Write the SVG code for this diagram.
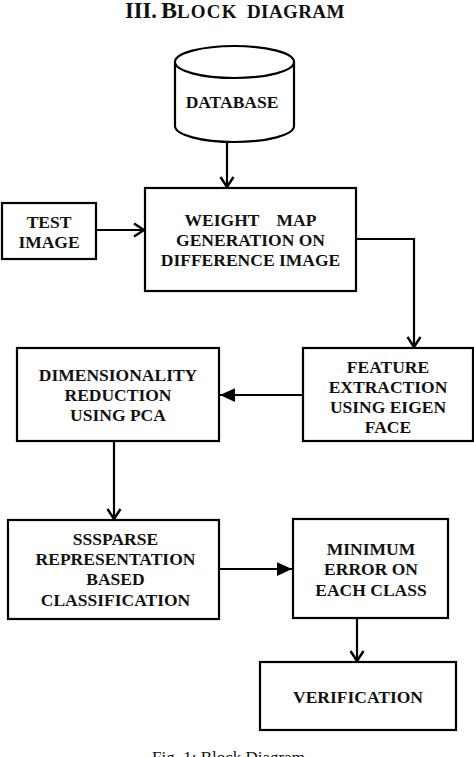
<svg xmlns="http://www.w3.org/2000/svg" width="474" height="757" viewBox="0 0 474 757">
<defs>
<style>
.box{fill:#fff;stroke:#000;stroke-width:2.2}
.wire{fill:none;stroke:#000;stroke-width:2.2}
.open{marker-end:url(#openArrow)}
.fill{marker-end:url(#fillArrow)}
</style>
<marker id="openArrow" markerUnits="userSpaceOnUse" markerWidth="20" markerHeight="20" viewBox="-12 -10 14 20" refX="0" refY="0" orient="auto">
<path d="M-10,-6.5 L0,0 L-10,6.5" fill="none" stroke="#000" stroke-width="2.4"/>
</marker>
<marker id="fillArrow" markerUnits="userSpaceOnUse" markerWidth="20" markerHeight="20" viewBox="-14 -8 15 16" refX="0" refY="0" orient="auto">
<path d="M-12,-5.5 L0,0 L-12,5.5 Z" fill="#000"/>
</marker>
</defs>
<rect width="474" height="757" fill="#fff"/>

<g id="title" font-family="'Liberation Serif', serif" font-weight="bold" fill="#111">
<text x="125" y="18" font-size="22.5">III.<tspan x="161" font-size="24">B</tspan><tspan x="177" font-size="19" letter-spacing="1.2">LOCK</tspan><tspan x="247" font-size="19" letter-spacing="0.4">DIAGRAM</tspan></text>
</g>

<g id="connectors">
<line class="wire open" x1="227" y1="142" x2="227" y2="187"/>
<line class="wire open" x1="96" y1="230" x2="144" y2="230"/>
<polyline class="wire open" points="356,239 414,239 414,347"/>
<line class="wire fill" x1="303" y1="395" x2="220" y2="395"/>
<line class="wire open" x1="114" y1="441" x2="114" y2="519"/>
<line class="wire fill" x1="219" y1="569" x2="292" y2="569"/>
<line class="wire open" x1="357" y1="618" x2="357" y2="661"/>
</g>

<g id="database">
<path class="box" d="M175,62 L175,126 A59.5,16 0 0 0 294,126 L294,62"/>
<ellipse class="box" cx="234.5" cy="62" rx="59.5" ry="16"/>
<g font-family="'Liberation Serif', serif" font-weight="bold" font-size="17.5" fill="#111" text-anchor="middle">
<text x="232" y="108">DATABASE</text>
</g>
</g>

<g id="test-image">
<rect class="box" x="2" y="203" width="94" height="56"/>
<g font-family="'Liberation Serif', serif" font-weight="bold" font-size="17.5" fill="#111" text-anchor="middle">
<text x="49" y="228">TEST</text>
<text x="49" y="248">IMAGE</text>
</g>
</g>

<g id="weight-map">
<rect class="box" x="145" y="188" width="211" height="103"/>
<g font-family="'Liberation Serif', serif" font-weight="bold" font-size="17.5" fill="#111" text-anchor="middle">
<text x="250.5" y="226" xml:space="preserve">WEIGHT    MAP</text>
<text x="250.5" y="246">GENERATION ON</text>
<text x="250.5" y="266">DIFFERENCE IMAGE</text>
</g>
</g>

<g id="feature-extraction">
<rect class="box" x="303" y="348" width="170" height="93"/>
<g font-family="'Liberation Serif', serif" font-weight="bold" font-size="17.5" fill="#111" text-anchor="middle">
<text x="388" y="373">FEATURE</text>
<text x="388" y="393">EXTRACTION</text>
<text x="388" y="413">USING EIGEN</text>
<text x="388" y="433">FACE</text>
</g>
</g>

<g id="dimensionality-reduction">
<rect class="box" x="17" y="348" width="202" height="93"/>
<g font-family="'Liberation Serif', serif" font-weight="bold" font-size="17.5" fill="#111" text-anchor="middle">
<text x="118" y="381">DIMENSIONALITY</text>
<text x="118" y="401">REDUCTION</text>
<text x="118" y="421">USING PCA</text>
</g>
</g>

<g id="sparse-classification">
<rect class="box" x="8" y="520" width="211" height="99"/>
<g font-family="'Liberation Serif', serif" font-weight="bold" font-size="17.5" fill="#111" text-anchor="middle">
<text x="115.5" y="545">SSSPARSE</text>
<text x="115.5" y="565">REPRESENTATION</text>
<text x="115.5" y="585">BASED</text>
<text x="115.5" y="606">CLASSIFICATION</text>
</g>
</g>

<g id="minimum-error">
<rect class="box" x="293" y="519" width="155" height="99"/>
<g font-family="'Liberation Serif', serif" font-weight="bold" font-size="17.5" fill="#111" text-anchor="middle">
<text x="371" y="555">MINIMUM</text>
<text x="371" y="575">ERROR ON</text>
<text x="371" y="596">EACH CLASS</text>
</g>
</g>

<g id="verification">
<rect class="box" x="260" y="662" width="196" height="68"/>
<g font-family="'Liberation Serif', serif" font-weight="bold" font-size="17.5" fill="#111" text-anchor="middle">
<text x="358" y="703">VERIFICATION</text>
</g>
</g>

<g id="caption">
<text x="152" y="763" font-family="'Liberation Serif', serif" font-size="17" fill="#111">Fig. 1: Block Diagram</text>
</g>
</svg>
